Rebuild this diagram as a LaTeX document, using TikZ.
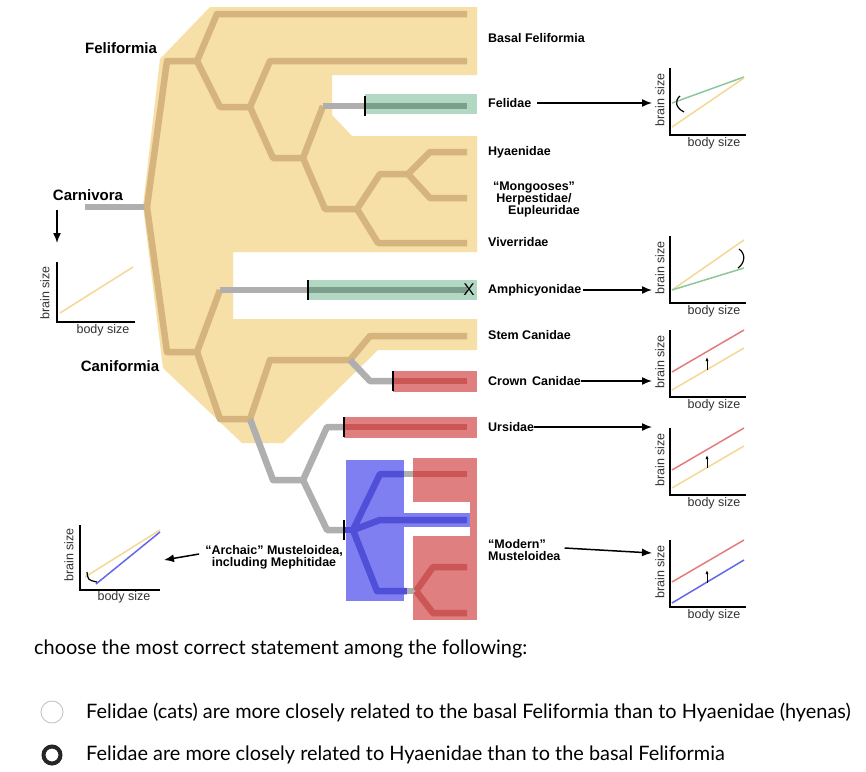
\documentclass[tikz,border=0pt]{standalone}
\usepackage{fontspec}
\setmainfont{Liberation Sans}
\newfontfamily\latofont{Lato}
\usetikzlibrary{arrows.meta}
\begin{document}
\begin{tikzpicture}[x=1pt,y=-1pt,
  br/.style={draw=tanb,line width=6.5pt,line join=round},
  gr/.style={draw=grayb,line width=6.5pt,line join=round},
  bl/.style={draw=blueb,line width=6.5pt,line join=round},
  rl/.style={draw=redl,line width=6.5pt,line join=round},
  gl/.style={draw=greenl,line width=6.5pt},
  tk/.style={draw=black,line width=2pt},
  lab/.style={font=\bfseries\fontsize{12.5}{12}\selectfont,anchor=west,align=left,inner sep=0pt},
  big/.style={font=\bfseries\fontsize{15}{16}\selectfont,inner sep=0pt},
  ax/.style={draw=black,line width=1.2pt},
  axl/.style={font=\fontsize{12.5}{13}\selectfont,text=black!80,inner sep=0pt},
  arr/.style={draw=black,line width=1.5pt,-{Latex[length=10pt,width=8pt]}},
  q/.style={font=\latofont\fontsize{19.9}{21}\selectfont,anchor=west,inner sep=0pt}]
\definecolor{beige}{HTML}{F7DFA8}
\definecolor{tanb}{HTML}{D6B47E}
\definecolor{grayb}{HTML}{AFAFAF}
\definecolor{greenf}{HTML}{B2D8C3}
\definecolor{greenl}{HTML}{7D9E8A}
\definecolor{redf}{HTML}{E07F7F}
\definecolor{redl}{HTML}{CC5555}
\definecolor{bluef}{HTML}{7F7FF2}
\definecolor{blueb}{HTML}{4F4FD8}
\definecolor{lgreen}{HTML}{8CC79A}
\definecolor{lbeige}{HTML}{F4D893}
\definecolor{lred}{HTML}{E57C7C}
\definecolor{lblue}{HTML}{6666E8}
\useasboundingbox (0,0) rectangle (866,771);
\fill[white] (0,0) rectangle (866,771);
% beige region
\fill[beige] (210,7)--(477,7)--(477,75)--(332,75)--(332,115)--(352,136)--(477,136)--(477,252)--(233,252)--(233,319)--(477,319)--(477,350)--(378,350)--(283,443)--(242,443)--(163,368)--(143,206)--(160,59)--cycle;
% colored boxes
\fill[greenf] (365,94) rectangle (477,114);
\fill[greenf] (308,280) rectangle (477,300);
\fill[redf] (393,371) rectangle (477,392);
\fill[redf] (344,417) rectangle (477,438);
\fill[redf] (413,458) rectangle (477,620);
\fill[white] (404,502) rectangle (470,536);
\fill[bluef] (346,460) rectangle (404,601);
\fill[bluef] (404,513) rectangle (470,527);
% tree
\coordinate (root) at (147,207);
\draw[gr] (85,207) -- (root);
\draw[br] (root) -- (167,61) -- (197,61);
\draw[br] (root) -- (167,352) -- (197,352);
\draw[br] (197,61) -- (217,14) -- (467,14);
\draw[br] (197,61) -- (220,107) -- (250,107);
\draw[br] (250,107) -- (270,61) -- (467,61);
\draw[br] (250,107) -- (273,158) -- (303,158);
\draw[br] (303,158) -- (323,106);
\draw[gr] (323,106) -- (365,106);
\draw[gl] (365,106) -- (467,106);
\draw[br] (303,158) -- (325,209) -- (357,209);
\draw[br] (357,209) -- (380,174) -- (408,174);
\draw[br] (408,174) -- (430,152) -- (467,152);
\draw[br] (408,174) -- (430,198) -- (467,198);
\draw[br] (357,209) -- (378,243) -- (467,243);
\draw[br] (197,352) -- (220,290);
\draw[gr] (220,290) -- (308,290);
\draw[gl] (308,290) -- (467,290);
\draw[br] (197,352) -- (220,419) -- (250,419);
\draw[br] (250,419) -- (270,360) -- (350,360);
\draw[br] (350,360) -- (370,336) -- (467,336);
\draw[gr] (350,360) -- (370,381) -- (393,381);
\draw[rl] (393,381) -- (467,381);
\draw[gr] (250,419) -- (273,480) -- (303,480);
\draw[gr] (303,480) -- (327,427) -- (344,427);
\draw[rl] (344,427) -- (467,427);
\draw[gr] (303,480) -- (327,530) -- (344,530);
\draw[bl] (344,530) -- (353,530);
\draw[bl] (353,530) -- (380,474) -- (404,474);
\draw[gr] (404,474) -- (413,474);
\draw[rl] (413,474) -- (467,474);
\draw[bl] (353,530) -- (380,520) -- (467,520);
\draw[bl] (353,530) -- (377,591) -- (407,591);
\draw[gr] (407,591) -- (416,591);
\draw[rl] (416,591) -- (433,567) -- (467,567);
\draw[rl] (416,591) -- (433,613) -- (467,613);
\foreach \x/\y in {365/106,308/290,393/381,344/427,344/530}
  \draw[tk] (\x,\y-10) -- (\x,\y+10);
\node[font=\fontsize{17}{17}\selectfont,inner sep=0pt] (xm) at (469,290) {X};
% labels
\node[big] (feli) at (121,48) {Feliformia};
\node[big] (carn) at (88,195) {Carnivora};
\node[big] (cani) at (120,366) {Caniformia};
\node[lab] (bf) at (488,38) {Basal Feliformia};
\node[lab] (fel) at (488,103) {Felidae};
\node[lab] (hya) at (488,152) {Hyaenidae};
\node[lab,align=center] (mon) at (488,199) {“Mongooses”\\Herpestidae/\\\hspace*{1.6em}Eupleuridae};
\node[lab] (viv) at (488,242) {Viverridae};
\node[lab] (amp) at (488,290) {Amphicyonidae};
\node[lab] (stem) at (488,335) {Stem Canidae};
\node[lab] (crown) at (488,381) {Crown\hspace{0.4em}Canidae};
\node[lab] (urs) at (488,427) {Ursidae};
\node[lab] (mod) at (488,550) {“Modern”\\Musteloidea};
\node[lab,anchor=east,align=center] (arch) at (343,557) {“Archaic” Musteloidea,\\including Mephitidae};
% arrows
\coordinate (p1) at (652,103);
\coordinate (p2) at (652,290);
\coordinate (p3) at (652,381);
\coordinate (p4) at (652,427);
\coordinate (p5) at (652,553);
\coordinate (pl) at (164,560);
\coordinate (ca) at (57,243);
\draw[arr] ([xshift=6pt]fel.east) -- (p1);
\draw[arr] ([xshift=2pt]amp.east) -- (p2);
\draw[arr] (crown.east) -- (p3);
\draw[arr] (urs.east) -- (p4);
\draw[arr] ([xshift=4pt,yshift=2pt]mod.east) -- (p5);
\draw[arr] ([xshift=-6pt,yshift=3pt]arch.west) -- (pl);
\draw[arr] (57,210) -- (ca);
% plots right
\foreach \t in {68,236,330,428,540}{
  \draw[ax] (670,\t) -- (670,\t+67) -- (746,\t+67);
  \node[axl,rotate=90] at (660,\t+32) {brain size};
  \node[axl] at (714,\t+75) {body size};
}
\draw[lgreen,line width=1.5pt] (672,103) -- (744,77);
\draw[lbeige,line width=1.5pt] (672,127) -- (744,78);
\draw[black,line width=1.2pt] (680,96) .. controls (674,101) and (676,108) .. (684,112);
\draw[lbeige,line width=1.5pt] (672,290) -- (744,240);
\draw[lgreen,line width=1.5pt] (672,290) -- (744,268);
\draw[black,line width=1.2pt] (739,249) .. controls (746,254) and (745,263) .. (738,268);
\draw[lred,line width=1.5pt] (672,372) -- (744,330);
\draw[lbeige,line width=1.5pt] (672,390) -- (744,348);
\draw[black,line width=0.8pt,-{Latex[length=4pt]}] (707,370) -- (707,357);
\draw[lred,line width=1.5pt] (672,470) -- (744,428);
\draw[lbeige,line width=1.5pt] (672,488) -- (744,446);
\draw[black,line width=0.8pt,-{Latex[length=4pt]}] (707,468) -- (707,455);
\draw[lred,line width=1.5pt] (672,582) -- (744,540);
\draw[lblue,line width=1.5pt] (672,603) -- (744,560);
\draw[black,line width=0.8pt,-{Latex[length=4pt]}] (707,583) -- (707,570);
% plots left
\draw[ax] (57,262) -- (57,322) -- (135,322);
\node[axl,rotate=90] at (45,293) {brain size};
\node[axl] at (103,330) {body size};
\draw[lbeige,line width=1.5pt] (60,313) -- (133,267);
\draw[ax] (80,525) -- (80,590) -- (160,590);
\node[axl,rotate=90] at (69,555) {brain size};
\node[axl] at (124,597) {body size};
\draw[lbeige,line width=1.5pt] (85,577) -- (160,530);
\draw[lblue,line width=1.5pt] (96,584) -- (160,532);
\draw[black,line width=1.2pt] (87,572) .. controls (88,580) .. (97,582);
% question
\node[q] (qq) at (34,649) {choose the most correct statement among the following:};
\node[draw=black!25,circle,line width=0.8pt,minimum size=22pt,inner sep=0pt] (r1) at (52,712) {};
\node[draw=black!85,circle,line width=4pt,minimum size=17pt,inner sep=0pt] (r2) at (52,755) {};
\node[q] (a1) at (86,712) {Felidae (cats) are more closely related to the basal Feliformia than to Hyaenidae (hyenas)};
\node[q] (a2) at (86,755) {Felidae are more closely related to Hyaenidae than to the basal Feliformia};
\end{tikzpicture}
\end{document}
